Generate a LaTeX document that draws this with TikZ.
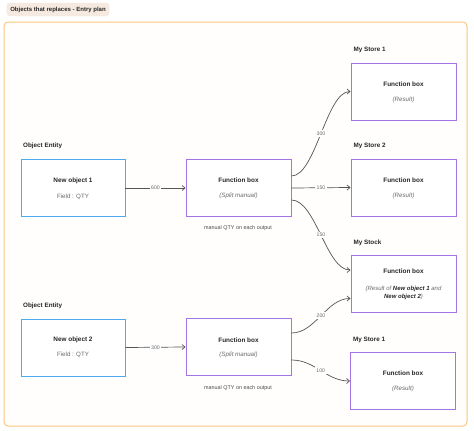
\documentclass[tikz,border=0pt]{standalone}
\usepackage{fontspec}
\setmainfont{Liberation Sans}
\usetikzlibrary{arrows.meta}
\definecolor{frameor}{HTML}{F8C87E}
\definecolor{tagfill}{HTML}{F6EAE0}
\definecolor{bluebd}{HTML}{4DAAEE}
\definecolor{purpbd}{HTML}{A274E4}
\definecolor{txtgray}{HTML}{6A6A6A}
\definecolor{arrowc}{HTML}{555555}
\tikzset{
  every node/.style={inner sep=0pt},
  entitybox/.style={draw=bluebd, line width=0.95pt, fill=white, minimum width=104pt, minimum height=57pt},
  funcbox/.style={draw=purpbd, line width=0.95pt, fill=white, minimum width=105pt, minimum height=57pt},
  boxtitle/.style={font=\fontsize{6.3}{7}\selectfont\bfseries, text=black!85, anchor=north west},
  flow/.style={draw=arrowc, line width=0.7pt, -{Straight Barb[length=3pt,width=5pt]}},
  qty/.style={font=\fontsize{5.2}{5}\selectfont, text=txtgray, fill=white, inner sep=1.5pt},
  headtxt/.style={font=\fontsize{6.4}{7}\selectfont\bfseries, text=black!85},
  subtxt/.style={font=\fontsize{6.2}{7}\selectfont, text=txtgray},
  note/.style={font=\fontsize{5.4}{6}\selectfont, text=black!70}
}
\begin{document}
\begin{tikzpicture}[x=1pt,y=-1pt]
\useasboundingbox (0,0) rectangle (474,431);
\fill[white] (0,0) rectangle (474,431);
% frame
\draw[frameor, line width=1pt, fill=frameor!2, rounded corners=4pt] (4,22) rectangle (467,426);
% title tag
\node[fill=tagfill, draw=tagfill!85!black!30, rounded corners=3pt, minimum height=13pt, inner xsep=3.5pt,
      font=\fontsize{6}{7}\selectfont\bfseries, text=black!85] (title) at (58,9.5) {Objects that replaces - Entry plan};

% entity boxes
\node[entitybox] (no1) at (73,188) {};
\node[headtxt] (no1h) at (73,181) {New object 1};
\node[subtxt] (no1s) at (73,197) {Field : QTY};
\node[boxtitle] (oe1) at (23,143) {Object Entity};

\node[entitybox] (no2) at (73,347.5) {};
\node[headtxt] (no2h) at (73,340) {New object 2};
\node[subtxt] (no2s) at (73,355) {Field : QTY};
\node[boxtitle] (oe2) at (23,303) {Object Entity};

% function boxes
\node[funcbox] (fb1) at (238.5,188) {};
\node[headtxt] (fb1h) at (238.5,180) {Function box};
\node[subtxt, font=\fontsize{6.2}{7}\selectfont\itshape] (fb1s) at (238.5,196) {(Split manual)};
\node[note] (fb1n) at (238,228.5) {manual QTY on each output};

\node[funcbox] (fb2) at (238.5,347) {};
\node[headtxt] (fb2h) at (238.5,340) {Function box};
\node[subtxt, font=\fontsize{6.2}{7}\selectfont\itshape] (fb2s) at (238.5,355) {(Split manual)};
\node[note] (fb2n) at (238,388) {manual QTY on each output};

% result boxes
\node[funcbox] (s1) at (403.5,91.5) {};
\node[headtxt] (s1h) at (403.5,84) {Function box};
\node[subtxt, font=\fontsize{6.2}{7}\selectfont\itshape] (s1s) at (403.5,100) {(Result)};
\node[boxtitle] (s1l) at (353.5,46.5) {My Store 1};

\node[funcbox] (s2) at (403.5,187.5) {};
\node[headtxt] (s2h) at (403.5,180) {Function box};
\node[subtxt, font=\fontsize{6.2}{7}\selectfont\itshape] (s2s) at (403.5,196) {(Result)};
\node[boxtitle] (s2l) at (353.5,142.5) {My Store 2};

\node[funcbox] (st) at (403.5,284) {};
\node[headtxt] (sth) at (403.5,271) {Function box};
\node[subtxt, font=\fontsize{6}{8.5}\selectfont\itshape, align=center] (sts) at (403.5,293)
  {(Result of {\bfseries\color{black!85}New object 1} and\\{\bfseries\color{black!85}New object 2})};
\node[boxtitle] (stl) at (353.5,239.5) {My Stock};

\node[funcbox] (s3) at (403,381) {};
\node[headtxt] (s3h) at (403,373) {Function box};
\node[subtxt, font=\fontsize{6.2}{7}\selectfont\itshape] (s3s) at (403,389) {(Result)};
\node[boxtitle] (s3l) at (353,336.5) {My Store 1};

% connectors
\draw[flow] (no1.east) -- node[qty] {600} (fb1.west);
\draw[flow] (no2.east) -- node[qty] {300} (fb2.west);
\draw[flow] (fb1.east) -- node[qty] {150} (s2.west);
\draw[flow] ([yshift=12pt]fb1.east) .. controls +(24,0) and +(-24,0) .. node[qty, pos=0.5] {300} (s1.west);
\draw[flow] ([yshift=-12pt]fb1.east) .. controls +(24,0) and +(-24,0) .. node[qty, pos=0.5] {150} ([yshift=14pt]st.west);
\draw[flow] ([yshift=14pt]fb2.east) .. controls +(24,0) and +(-24,0) .. node[qty, pos=0.5] {200} ([yshift=-14.5pt]st.west);
\draw[flow] ([yshift=-13pt]fb2.east) .. controls +(24,0) and +(-24,0) .. node[qty, pos=0.5] {100} (s3.west);
\end{tikzpicture}
\end{document}
